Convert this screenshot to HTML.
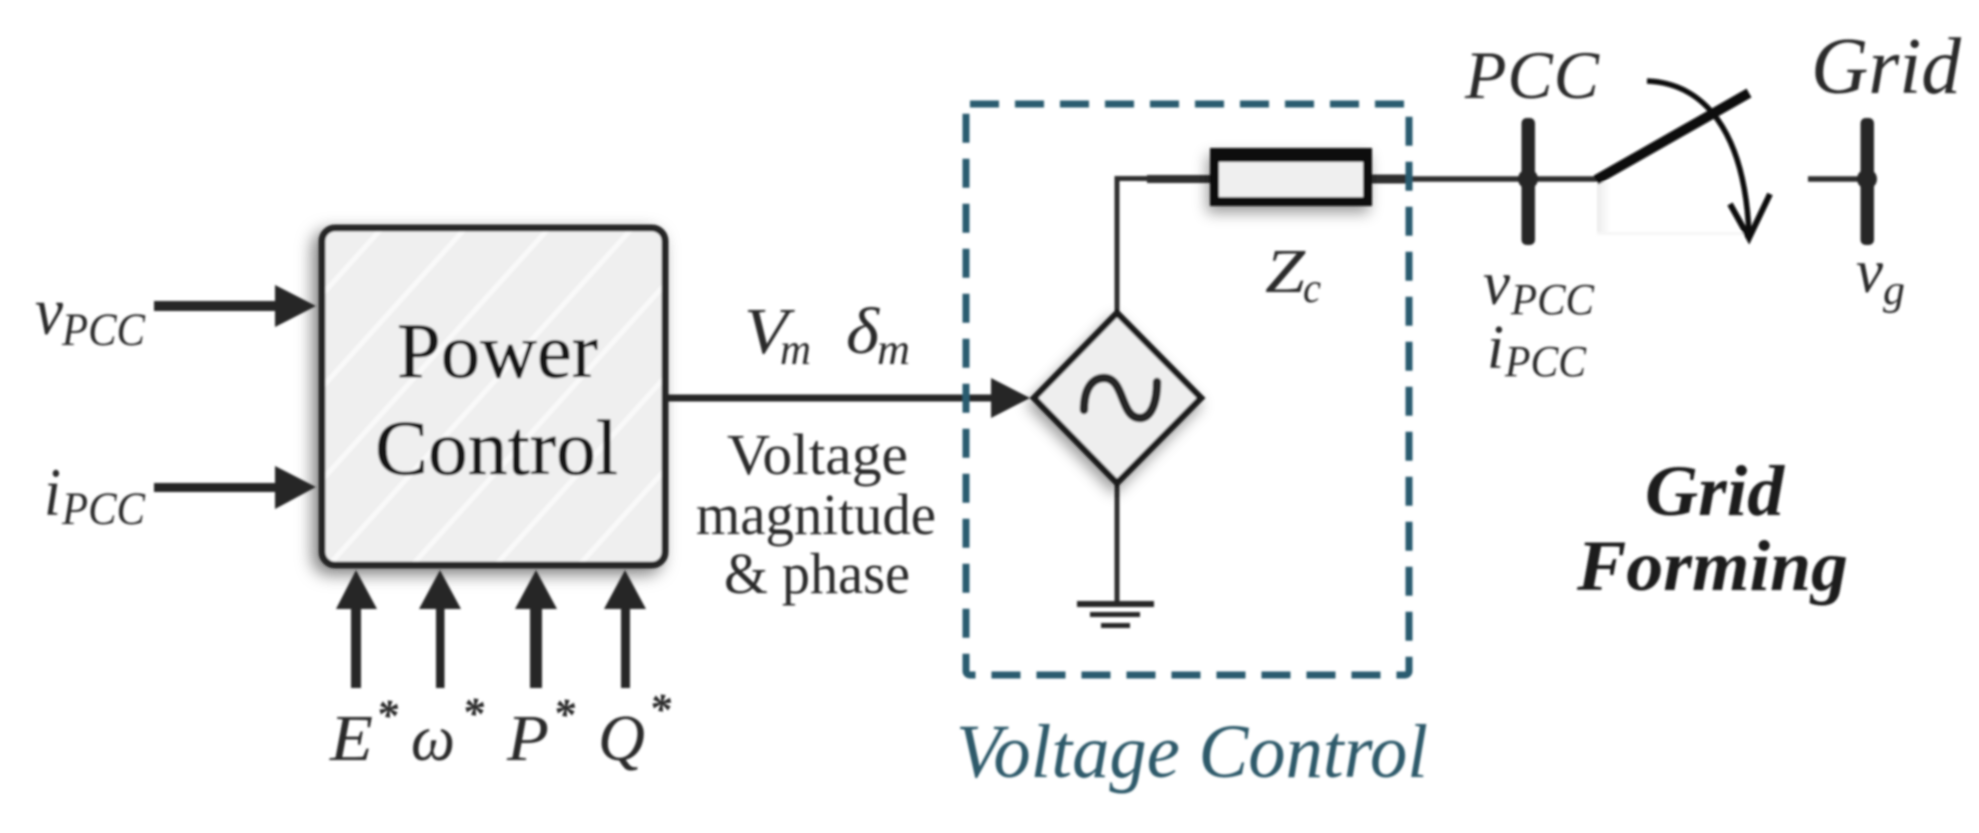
<!DOCTYPE html>
<html><head><meta charset="utf-8"><style>
html,body{margin:0;padding:0;background:#fff;width:1979px;height:833px;overflow:hidden}
svg{display:block}
text{font-family:"Liberation Serif",serif;fill:#2b2b2b}
.i{font-style:italic}
</style></head><body>
<svg width="1979" height="833" viewBox="0 0 1979 833" xmlns="http://www.w3.org/2000/svg">
<defs>
<filter id="b" x="-2%" y="-2%" width="104%" height="104%"><feGaussianBlur stdDeviation="1.1"/></filter>
<filter id="s" x="-20%" y="-20%" width="140%" height="140%"><feDropShadow dx="-6" dy="6" stdDeviation="8" flood-color="#000" flood-opacity=".5"/></filter>
<filter id="s2" x="-30%" y="-60%" width="160%" height="240%"><feDropShadow dx="-3" dy="7" stdDeviation="7" flood-color="#000" flood-opacity=".38"/></filter>
<linearGradient id="fade" x1="0" x2="1" y1="0" y2="0"><stop offset="0" stop-color="#ececec"/><stop offset="1" stop-color="#fff"/></linearGradient>
<pattern id="h" width="62" height="62" patternUnits="userSpaceOnUse" patternTransform="rotate(-48)"><rect width="62" height="62" fill="#efefef"/><rect x="0" y="0" width="62" height="5" fill="#f9f9f9"/></pattern>
</defs>
<rect width="1979" height="833" fill="#fff"/>
<g filter="url(#b)">
<!-- faint switch shadow -->
<rect x="1597" y="182" width="14" height="52" fill="url(#fade)"/>
<rect x="1597" y="232" width="150" height="3" fill="#f6f6f6"/>
<!-- power control box -->
<rect x="322" y="228" width="343" height="337" rx="13" fill="url(#h)" stroke="#262626" stroke-width="7" filter="url(#s)"/>
<text x="397" y="377" font-size="78" textLength="201" lengthAdjust="spacingAndGlyphs" style="fill:#141414;stroke:#141414;stroke-width:.6">Power</text>
<text x="375" y="474" font-size="78" textLength="243" lengthAdjust="spacingAndGlyphs" style="fill:#141414;stroke:#141414;stroke-width:.6">Control</text>
<!-- horizontal input arrows -->
<g fill="#262626" stroke="none">
<rect x="154" y="301" width="125" height="10"/><polygon points="275,285 316,306 275,327"/>
<rect x="154" y="483" width="125" height="9"/><polygon points="275,466 316,487 275,509"/>
<!-- vertical arrows -->
<rect x="351" y="604" width="10" height="84"/><polygon points="356,570 377,609 336,609"/>
<rect x="436" y="604" width="8.5" height="84"/><polygon points="440,570 461,609 419,609"/>
<rect x="530" y="604" width="12" height="84"/><polygon points="536,570 557,609 515,609"/>
<rect x="621" y="604" width="9" height="84"/><polygon points="625,570 646,609 604,609"/>
<!-- main arrow -->
<rect x="665" y="394.5" width="330" height="7"/><polygon points="991,378 1030,398 991,418"/>
</g>
<!-- circuit wires -->
<g fill="none" stroke="#2f2f2f" stroke-linecap="butt">
<path d="M1117,312 V178.5 H1150" stroke-width="5"/>
<path d="M1147,179 H1212" stroke-width="8"/>
<path d="M1370,179 H1412" stroke-width="9"/>
<path d="M1405,179 H1597" stroke-width="5.5"/>
<path d="M1808,179 H1867" stroke-width="5.5"/>
<path d="M1117,483 V604" stroke-width="5"/>
</g>
<!-- source diamond -->
<polygon points="1034,398 1117,313 1201,398 1117,483" fill="#eeeeee" stroke="#1f1f1f" stroke-width="6.5" stroke-linejoin="miter" filter="url(#s2)"/>
<path d="M1084,410 C1084,386 1094,378 1104,378 C1125,378 1120,418 1140,418 C1150,418 1157,405 1157,382" fill="none" stroke="#262626" stroke-width="8.5" stroke-linecap="round"/>
<!-- resistor -->
<rect x="1210" y="148" width="162" height="58" fill="#0c0c0c" filter="url(#s2)"/>
<rect x="1219" y="162" width="144" height="35" fill="#efefef"/>
<!-- ground -->
<g fill="#262626">
<rect x="1077" y="601" width="77" height="6"/>
<rect x="1090" y="612" width="50" height="5"/>
<rect x="1101" y="623" width="29" height="5"/>
</g>
<!-- dashed box -->
<rect x="966" y="104" width="443" height="571" rx="4" fill="none" stroke="#2a5b70" stroke-width="7" stroke-dasharray="29 16"/>
<!-- bus bars -->
<g fill="#262626">
<rect x="1521.5" y="118" width="13.5" height="127" rx="5"/><circle cx="1528" cy="179" r="10"/>
<rect x="1860.5" y="118" width="13.5" height="127" rx="5"/><circle cx="1867" cy="179" r="10"/>
</g>
<!-- switch -->
<line x1="1596" y1="180" x2="1749" y2="93" stroke="#0a0a0a" stroke-width="10"/>
<path d="M1647,81 C1703,83 1745,130 1749,235" fill="none" stroke="#0a0a0a" stroke-width="5.5"/>
<path d="M1730,204 L1749,238 L1770,194" fill="none" stroke="#0a0a0a" stroke-width="6"/>
<!-- labels -->
<g class="i">
<text x="35" y="334" font-size="68" class="i" textLength="28" lengthAdjust="spacingAndGlyphs">v</text>
<text x="62" y="345" font-size="47" class="i" textLength="83" lengthAdjust="spacingAndGlyphs">PCC</text>
<text x="44" y="515" font-size="68" class="i" textLength="17" lengthAdjust="spacingAndGlyphs">i</text>
<text x="62" y="524" font-size="47" class="i" textLength="83" lengthAdjust="spacingAndGlyphs">PCC</text>
<text x="330" y="760" font-size="66" class="i" textLength="43" lengthAdjust="spacingAndGlyphs">E</text>
<text x="376" y="730" font-size="44" class="i" font-weight="bold">*</text>
<text x="411" y="760" font-size="66" class="i" textLength="44" lengthAdjust="spacingAndGlyphs">ω</text>
<text x="462" y="728" font-size="44" class="i" font-weight="bold">*</text>
<text x="507" y="760" font-size="66" class="i" textLength="42" lengthAdjust="spacingAndGlyphs">P</text>
<text x="553" y="729" font-size="44" class="i" font-weight="bold">*</text>
<text x="598" y="760" font-size="66" class="i" textLength="47" lengthAdjust="spacingAndGlyphs">Q</text>
<text x="649" y="724" font-size="44" class="i" font-weight="bold">*</text>
<text x="744" y="353" font-size="66" class="i" textLength="44" lengthAdjust="spacingAndGlyphs">V</text>
<text x="780" y="364" font-size="44" class="i" textLength="31" lengthAdjust="spacingAndGlyphs">m</text>
<text x="846" y="353" font-size="66" class="i" textLength="33" lengthAdjust="spacingAndGlyphs">δ</text>
<text x="877" y="364" font-size="44" class="i" textLength="33" lengthAdjust="spacingAndGlyphs">m</text>
<text x="1265" y="292" font-size="62" class="i" textLength="40" lengthAdjust="spacingAndGlyphs">Z</text>
<text x="1303" y="302" font-size="42" class="i" textLength="18" lengthAdjust="spacingAndGlyphs">c</text>
<text x="1465" y="98" font-size="68" class="i" textLength="134" lengthAdjust="spacing">PCC</text>
<text x="1811" y="93" font-size="80" class="i" textLength="150" lengthAdjust="spacingAndGlyphs">Grid</text>
<text x="1483" y="304" font-size="62" class="i" textLength="27" lengthAdjust="spacingAndGlyphs">v</text>
<text x="1511" y="314" font-size="44" class="i" textLength="83" lengthAdjust="spacingAndGlyphs">PCC</text>
<text x="1487" y="368" font-size="62" class="i" textLength="17" lengthAdjust="spacingAndGlyphs">i</text>
<text x="1505" y="376" font-size="44" class="i" textLength="81" lengthAdjust="spacingAndGlyphs">PCC</text>
<text x="1856" y="292" font-size="62" class="i" textLength="27" lengthAdjust="spacingAndGlyphs">v</text>
<text x="1883" y="304" font-size="42" class="i" textLength="22" lengthAdjust="spacingAndGlyphs">g</text>
</g>
<text x="727" y="474" font-size="58" textLength="181" lengthAdjust="spacingAndGlyphs" fill="#333">Voltage</text>
<text x="696" y="534" font-size="58" textLength="240" lengthAdjust="spacingAndGlyphs" fill="#333">magnitude</text>
<text x="724" y="593" font-size="58" textLength="186" lengthAdjust="spacingAndGlyphs" fill="#333">&amp; phase</text>
<text x="956" y="777" font-size="76" class="i" textLength="472" lengthAdjust="spacingAndGlyphs" style="fill:#2d5a6b">Voltage Control</text>
<text x="1645" y="515" font-size="72" class="i" font-weight="bold" textLength="139" lengthAdjust="spacingAndGlyphs" style="fill:#1a1a1a">Grid</text>
<text x="1577" y="590" font-size="72" class="i" font-weight="bold" textLength="271" lengthAdjust="spacingAndGlyphs" style="fill:#1a1a1a">Forming</text>
</g>
</svg>
</body></html>
